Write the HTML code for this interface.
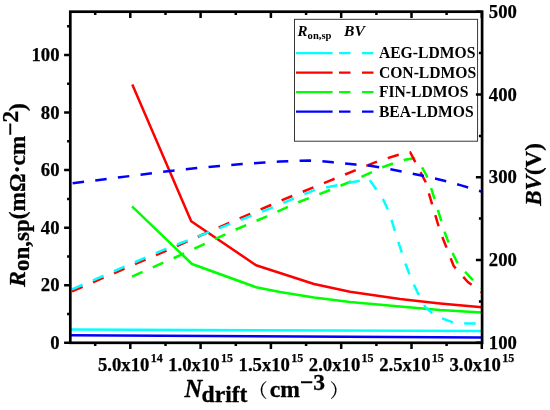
<!DOCTYPE html>
<html><head><meta charset="utf-8"><title>chart</title>
<style>html,body{margin:0;padding:0;background:#fff}svg{display:block}</style></head>
<body>
<svg width="550" height="410" viewBox="0 0 550 410">
<rect width="550" height="410" fill="#fff"/>
<defs><clipPath id="c"><rect x="70.3" y="11.7" width="411.8" height="331.1"/></clipPath></defs>
<g clip-path="url(#c)" fill="none" stroke-width="2.5" stroke-linejoin="round">
<polyline points="71.0,335.3 482.0,337.4" stroke="#0000ff"/>
<polyline points="71.0,329.5 482.0,331.0" stroke="#00ffff"/>
<polyline points="132.0,206.4 192.0,264.0 256.0,287.2 280.0,292.0 314.0,297.5 350.0,301.9 400.0,306.5 440.0,310.0 482.0,312.6" stroke="#00ff00"/>
<polyline points="132.3,84.5 191.2,221.2 256.0,265.2 280.0,273.0 314.0,284.0 350.0,291.7 400.0,299.0 440.0,303.5 482.0,307.3" stroke="#ff0000"/>
<polyline points="132.0,276.6 174.0,258.0 236.0,229.5 267.0,216.3 299.0,202.0 330.0,190.0 351.0,181.5 372.0,172.0 383.2,167.0 393.4,163.4 405.0,159.8 414.0,158.2 418.0,162.0 422.0,167.3 426.3,175.0 431.4,189.0 445.3,234.0 453.7,255.5 457.0,262.0 465.0,271.6 472.4,279.6 482.0,288.5" stroke="#00ff00" stroke-dasharray="11.5 11.25"/>
<polyline points="72.0,291.3 168.0,250.0 219.0,227.3 271.0,205.0 282.0,200.2 330.0,180.6 378.0,161.2 387.5,158.2 398.5,154.7 410.2,152.2 425.6,182.0 439.7,230.2 453.7,266.0 467.8,282.0 482.0,292.5" stroke="#ff0000" stroke-dasharray="11.5 11.35"/>
<polyline points="72.0,289.3 168.0,248.0 219.0,228.3 273.0,207.4 284.0,202.6 315.6,189.6 338.0,185.2 360.0,180.6 368.5,178.3 376.0,189.0 383.4,200.0 389.0,212.0 397.4,239.0 405.0,262.5 411.5,279.5 419.0,295.6 425.6,307.5 432.0,313.0 439.7,317.5 453.7,322.6 467.0,323.4 482.0,323.5" stroke="#00ffff" stroke-dasharray="11.5 11.33"/>
<polyline points="72.6,183.3 120.0,177.3 170.0,171.0 197.0,168.0 219.6,166.0 242.0,164.0 264.4,162.6 280.0,161.6 295.0,160.8 310.0,160.6 322.0,161.2 333.0,162.3 355.6,164.6 370.0,165.8 390.5,169.2 412.4,173.6 434.3,178.3 445.3,181.0 462.0,185.6 482.0,191.7" stroke="#0000ff" stroke-dasharray="11.5 11.32"/>
</g>
<rect x="294.5" y="19.3" width="183.1" height="121.9" fill="#fff" stroke="#222" stroke-width="0.9"/>
<rect x="70.3" y="11.7" width="411.8" height="331.1" fill="none" stroke="#000" stroke-width="2.7"/>
<path d="M64.1 342.8H70.3 M67.1 314.0H70.3 M64.1 285.2H70.3 M67.1 256.5H70.3 M64.1 227.7H70.3 M67.1 198.9H70.3 M64.1 170.1H70.3 M67.1 141.3H70.3 M64.1 112.6H70.3 M67.1 83.8H70.3 M64.1 55.0H70.3 M67.1 26.2H70.3 M482.1 342.8H475.9 M482.1 301.4H478.9 M482.1 260.0H475.9 M482.1 218.6H478.9 M482.1 177.3H475.9 M482.1 135.9H478.9 M482.1 94.5H475.9 M482.1 53.1H478.9 M482.1 11.7H475.9 M95.2 342.8V346.0 M95.2 11.7V14.9 M130.3 342.8V349.0 M130.3 11.7V17.9 M165.5 342.8V346.0 M165.5 11.7V14.9 M200.6 342.8V349.0 M200.6 11.7V17.9 M235.8 342.8V346.0 M235.8 11.7V14.9 M270.9 342.8V349.0 M270.9 11.7V17.9 M306.1 342.8V346.0 M306.1 11.7V14.9 M341.2 342.8V349.0 M341.2 11.7V17.9 M376.4 342.8V346.0 M376.4 11.7V14.9 M411.5 342.8V349.0 M411.5 11.7V17.9 M446.6 342.8V346.0 M446.6 11.7V14.9 M481.8 342.8V349.0 M481.8 11.7V17.9" stroke="#000" stroke-width="2.5" fill="none"/>
<g font-family="'Liberation Serif', serif" font-weight="bold" font-size="18.7" fill="#000" stroke="#000" stroke-width="0.25">
<text x="59.5" y="348.9" text-anchor="end">0</text>
<text x="59.5" y="291.3" text-anchor="end">20</text>
<text x="59.5" y="233.8" text-anchor="end">40</text>
<text x="59.5" y="176.2" text-anchor="end">60</text>
<text x="59.5" y="118.7" text-anchor="end">80</text>
<text x="59.5" y="61.1" text-anchor="end">100</text>
<text x="488.8" y="348.9">100</text>
<text x="488.8" y="266.1">200</text>
<text x="488.8" y="183.4">300</text>
<text x="488.8" y="100.6">400</text>
<text x="488.8" y="17.8">500</text>
<text x="130.3" y="370.6" text-anchor="middle">5.0x10<tspan font-size="12" dy="-8.8" dx="1.3">14</tspan></text>
<text x="200.6" y="370.6" text-anchor="middle">1.0x10<tspan font-size="12" dy="-8.8" dx="1.3">15</tspan></text>
<text x="270.9" y="370.6" text-anchor="middle">1.5x10<tspan font-size="12" dy="-8.8" dx="1.3">15</tspan></text>
<text x="341.2" y="370.6" text-anchor="middle">2.0x10<tspan font-size="12" dy="-8.8" dx="1.3">15</tspan></text>
<text x="411.5" y="370.6" text-anchor="middle">2.5x10<tspan font-size="12" dy="-8.8" dx="1.3">15</tspan></text>
<text x="481.8" y="370.6" text-anchor="middle">3.0x10<tspan font-size="12" dy="-8.8" dx="1.3">15</tspan></text>
</g>
<g font-family="'Liberation Serif', 'Noto Serif CJK SC', serif" font-weight="bold" fill="#000" stroke="#000" stroke-width="0.3">
<text transform="translate(25,287) rotate(-90)" font-size="23.3"><tspan font-style="italic" font-size="24">R</tspan><tspan dy="4" font-size="23">on,sp</tspan><tspan dy="-4">(mΩ·cm</tspan><tspan dy="-7.4">−2</tspan><tspan dy="7.4">)</tspan></text>
<text x="184.6" y="397.2" font-size="23.6"><tspan font-style="italic" font-size="24.6">N</tspan><tspan dy="4.9" dx="-0.8">drift</tspan><tspan dy="-4.1" dx="1" font-weight="normal" font-size="19" stroke-width="0.15">（</tspan><tspan dy="-0.8" dx="2.3">cm</tspan><tspan dy="-7">−3</tspan><tspan dy="7.6" dx="4.5" font-weight="normal" font-size="19" stroke-width="0.15">）</tspan></text>
<text transform="translate(541.2,205.8) rotate(-90)" font-size="23"><tspan font-style="italic">BV</tspan>(V)</text>
</g>
<g font-family="'Liberation Serif', serif" font-weight="bold" fill="#000">
<text x="297.6" y="35.6" font-size="15" font-style="italic">R<tspan font-size="10.6" dy="3.6" font-style="normal">on,sp</tspan></text>
<text x="344" y="35.6" font-size="15.6" font-style="italic">BV</text>
<path d="M296 53.1H332.6" stroke="#00ffff" stroke-width="2.3"/>
<path d="M339 53.1H373.5" stroke="#00ffff" stroke-width="2.3" stroke-dasharray="11.5 11.5"/>
<text x="378.9" y="58.4" font-size="15.65">AEG-LDMOS</text>
<path d="M296 72.6H332.6" stroke="#ff0000" stroke-width="2.3"/>
<path d="M339 72.6H373.5" stroke="#ff0000" stroke-width="2.3" stroke-dasharray="11.5 11.5"/>
<text x="378.9" y="77.9" font-size="15.65">CON-LDMOS</text>
<path d="M296 92.1H332.6" stroke="#00ff00" stroke-width="2.3"/>
<path d="M339 92.1H373.5" stroke="#00ff00" stroke-width="2.3" stroke-dasharray="11.5 11.5"/>
<text x="378.9" y="97.4" font-size="15.65">FIN-LDMOS</text>
<path d="M296 111.6H332.6" stroke="#0000ff" stroke-width="2.3"/>
<path d="M339 111.6H373.5" stroke="#0000ff" stroke-width="2.3" stroke-dasharray="11.5 11.5"/>
<text x="378.9" y="116.9" font-size="15.65">BEA-LDMOS</text>
</g>
</svg>
</body></html>
